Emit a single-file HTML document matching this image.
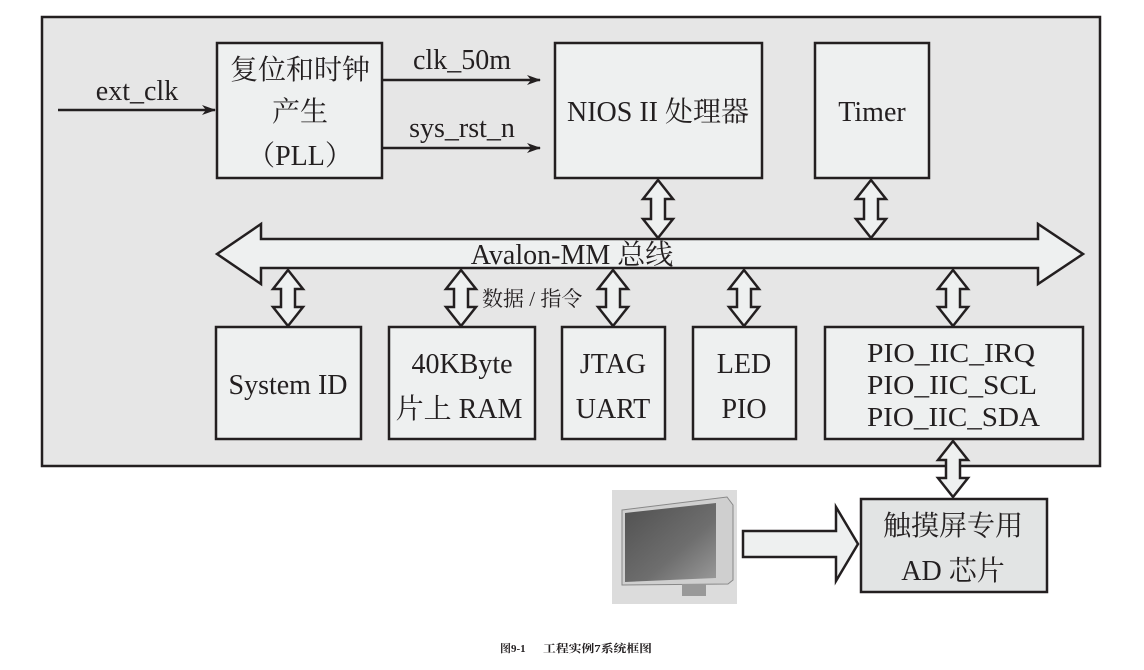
<!DOCTYPE html>
<html><head><meta charset="utf-8"><style>
html,body{margin:0;padding:0;background:#fff;}
svg{display:block;}
text{font-family:"Liberation Serif","Noto Serif CJK SC",serif;fill:#231f20;}
</style></head><body>
<svg width="1144" height="670" viewBox="0 0 1144 670" xmlns="http://www.w3.org/2000/svg">
<defs>
<marker id="ah" markerWidth="14" markerHeight="10" refX="13" refY="5" orient="auto" markerUnits="userSpaceOnUse">
<path d="M0,0 L14,5 L0,10 L4,5 Z" fill="#231f20"/>
</marker>
</defs>
<rect x="42" y="17" width="1058" height="449" fill="#e6e6e6" stroke="#231f20" stroke-width="2.5"/>
<g fill="#eef0f0" stroke="#231f20" stroke-width="2.5">
<rect x="217" y="43" width="165" height="135"/>
<rect x="555" y="43" width="207" height="135"/>
<rect x="815" y="43" width="114" height="135"/>
<rect x="216" y="327" width="145" height="112"/>
<rect x="389" y="327" width="146" height="112"/>
<rect x="562" y="327" width="103" height="112"/>
<rect x="693" y="327" width="103" height="112"/>
<rect x="825" y="327" width="258" height="112"/>
<rect x="861" y="499" width="186" height="93" fill="#e2e4e4"/>
</g>
<path d="M217,254 L261,224 L261,239 L1038,239 L1038,224 L1083,254 L1038,284 L1038,268 L261,268 L261,284 Z" fill="#eef0f0" stroke="#231f20" stroke-width="2.5" stroke-linejoin="miter"/>
<g fill="#eef0f0" stroke="#231f20" stroke-width="2.5">
<path d="M658,180 L673,199 L665,199 L665,219 L673,219 L658,238 L643,219 L651,219 L651,199 L643,199 Z"/>
<path d="M871,180 L886,199 L878,199 L878,219 L886,219 L871,238 L856,219 L864,219 L864,199 L856,199 Z"/>
<path d="M288,270 L303,289 L295,289 L295,307 L303,307 L288,326 L273,307 L281,307 L281,289 L273,289 Z"/>
<path d="M461,270 L476,289 L468,289 L468,307 L476,307 L461,326 L446,307 L454,307 L454,289 L446,289 Z"/>
<path d="M613,270 L628,289 L620,289 L620,307 L628,307 L613,326 L598,307 L606,307 L606,289 L598,289 Z"/>
<path d="M744,270 L759,289 L751,289 L751,307 L759,307 L744,326 L729,307 L737,307 L737,289 L729,289 Z"/>
<path d="M953,270 L968,289 L960,289 L960,307 L968,307 L953,326 L938,307 L946,307 L946,289 L938,289 Z"/>
<path d="M953,441 L968,460 L960,460 L960,478 L968,478 L953,497 L938,478 L946,478 L946,460 L938,460 Z"/>
<path d="M743,531 L836,531 L836,507 L858,544 L836,581 L836,557 L743,557 Z"/>
</g>
<g stroke="#231f20" stroke-width="2.5" marker-end="url(#ah)">
<line x1="58" y1="110" x2="215" y2="110"/>
<line x1="382" y1="80" x2="540" y2="80"/>
<line x1="382" y1="148" x2="540" y2="148"/>
</g>
<rect x="612" y="490" width="125" height="114" fill="#dcdcdc"/>
<defs><linearGradient id="sg" x1="0" y1="0" x2="1" y2="1"><stop offset="0" stop-color="#505050"/><stop offset="0.6" stop-color="#6e6e6e"/><stop offset="1" stop-color="#9a9a9a"/></linearGradient></defs>
<path d="M622,510 L727,497 L733,505 L733,580 L728,584 L622,585 Z" fill="#cfcfcf" stroke="#888" stroke-width="1"/>
<path d="M625,513 L716,503 L716,578 L625,582 Z" fill="url(#sg)"/>
<rect x="682" y="584" width="24" height="12" fill="#999"/>
<g font-size="28" text-anchor="middle">
<text x="137" y="100">ext_clk</text>
<text x="462" y="69">clk_50m</text>
<text x="462" y="137">sys_rst_n</text>
<text x="300" y="79">复位和时钟</text>
<text x="300" y="121">产生</text>
<text x="300" y="165">（PLL）</text>
<text x="658" y="121">NIOS II 处理器</text>
<text x="872" y="121">Timer</text>
<text x="572" y="264">Avalon-MM 总线</text>
<text x="288" y="394">System ID</text>
<text x="462" y="373">40KByte</text>
<text x="459" y="418">片上 RAM</text>
<text x="613" y="373">JTAG</text>
<text x="613" y="418">UART</text>
<text x="744" y="373">LED</text>
<text x="744" y="418">PIO</text>
<text x="953" y="535">触摸屏专用</text>
<text x="953" y="580">AD 芯片</text>
</g>
<g font-size="27">
<text x="867" y="362" textLength="168" lengthAdjust="spacingAndGlyphs">PIO_IIC_IRQ</text>
<text x="867" y="394" textLength="170" lengthAdjust="spacingAndGlyphs">PIO_IIC_SCL</text>
<text x="867" y="426" textLength="173" lengthAdjust="spacingAndGlyphs">PIO_IIC_SDA</text>
</g>
<text x="482" y="306" font-size="21">数据 / 指令</text>
<text x="500" y="652" font-size="11" font-weight="bold">图9-1</text>
<text x="543" y="652" font-size="11" font-weight="bold" textLength="109" lengthAdjust="spacingAndGlyphs">工程实例7系统框图</text>
</svg>
</body></html>
